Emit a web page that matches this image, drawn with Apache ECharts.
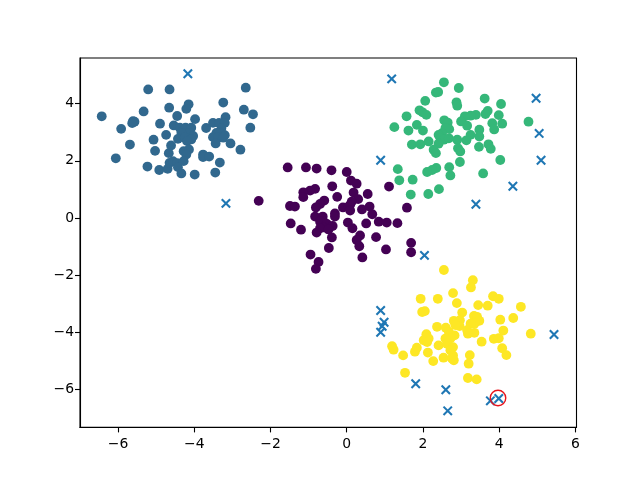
<!DOCTYPE html>
<html>
<head>
<meta charset="utf-8">
<style>
    html, body { margin: 0; padding: 0; background: #fff; }
    #main { width: 640px; height: 480px; }
</style>
</head>
<body>
<div id="main"></div>
<script src="https://cdn.jsdelivr.net/npm/echarts@6/dist/echarts.min.js"></script>
<script>
var xTicks = [-6, -4, -2, 0, 2, 4, 6];
var yTicks = [-6, -4, -2, 0, 2, 4];

var cluster0 = [[-1.55,1.77],[-1.07,1.77],[-0.79,1.73],[-0.40,1.67],[0.00,1.61],[0.11,1.31],[0.26,1.20],[-0.38,1.11],[-0.83,1.02],[-0.96,0.96],[-1.14,0.90],[-1.14,0.73],[0.18,0.89],[0.55,0.84],[1.11,1.10],[-0.25,0.74],[0.30,0.66],[0.13,0.57],[-0.59,0.61],[-0.70,0.49],[-0.81,0.37],[-1.49,0.42],[-1.36,0.40],[-0.10,0.37],[0.05,0.40],[0.09,0.46],[0.09,0.26],[0.40,0.30],[0.60,0.40],[0.67,0.13],[1.58,0.36],[-0.83,0.05],[-0.63,0.05],[-0.31,0.16],[-0.31,0.05],[-1.47,-0.19],[-1.20,-0.41],[-0.61,-0.13],[-0.70,-0.13],[-0.52,-0.21],[-0.61,-0.33],[-0.70,-0.36],[-0.37,-0.28],[-0.79,-0.51],[-0.48,-0.40],[-0.39,-0.68],[0.03,-0.16],[0.15,-0.36],[0.51,-0.19],[0.84,-0.13],[1.05,-0.16],[1.33,-0.18],[0.77,-0.67],[0.35,-0.61],[0.26,-0.77],[0.33,-0.99],[1.03,-1.10],[1.69,-0.87],[1.69,-1.20],[-0.47,-1.05],[-0.95,-1.28],[-0.74,-1.54],[-0.81,-1.78],[0.41,-1.38],[-2.31,0.60]];

var cluster1 = [[-6.43,3.56],[-6.06,2.09],[-5.92,3.12],[-5.69,2.57],[-5.61,3.39],[-5.57,3.37],[-5.63,3.32],[-5.33,3.73],[-5.21,4.50],[-4.65,4.50],[-5.23,1.80],[-5.07,2.74],[-5.03,2.35],[-4.90,3.30],[-4.92,1.68],[-4.74,2.91],[-4.70,1.72],[-4.66,3.86],[-4.67,2.27],[-4.61,2.54],[-4.65,1.93],[-4.54,3.24],[-4.45,3.57],[-4.56,1.99],[-4.45,1.92],[-4.43,1.78],[-4.34,1.56],[-3.99,1.52],[-4.15,3.98],[-4.21,3.82],[-3.98,3.46],[-4.38,3.16],[-4.30,3.06],[-4.23,3.16],[-4.08,3.16],[-4.12,2.98],[-4.34,2.98],[-4.03,2.87],[-4.43,2.77],[-4.25,2.81],[-4.08,2.75],[-4.19,2.69],[-4.28,2.34],[-4.14,2.40],[-4.21,2.22],[-4.28,1.99],[-3.77,2.22],[-3.77,2.13],[-3.61,2.15],[-3.33,1.94],[-3.45,1.59],[-3.69,3.15],[-3.51,3.33],[-3.35,3.33],[-3.18,3.53],[-3.24,4.04],[-3.20,3.33],[-3.29,3.13],[-3.33,2.98],[-3.42,2.98],[-3.20,2.90],[-3.51,2.83],[-3.38,2.81],[-3.24,2.81],[-3.44,2.61],[-3.05,2.61],[-2.79,2.39],[-2.70,3.79],[-2.65,4.56],[-2.46,3.63],[-2.53,3.16]];

var cluster2 = [[2.55,4.75],[2.94,4.55],[2.34,4.39],[2.40,4.41],[2.06,4.10],[3.62,4.18],[4.05,3.99],[2.88,4.05],[2.90,3.93],[1.91,3.77],[1.99,3.70],[2.09,3.61],[1.57,3.56],[3.70,3.75],[3.64,3.64],[3.99,3.60],[3.39,3.61],[3.25,3.58],[3.10,3.56],[3.00,3.38],[3.16,3.23],[2.56,3.42],[2.65,3.34],[1.84,3.26],[1.25,3.18],[1.62,3.06],[2.00,3.06],[2.69,3.11],[2.59,3.15],[2.50,2.97],[2.41,2.91],[3.48,3.09],[3.82,3.32],[4.08,3.30],[3.87,3.10],[4.77,3.37],[3.25,2.91],[3.48,2.85],[2.46,2.79],[2.55,2.74],[2.68,2.79],[2.90,2.74],[3.14,2.72],[1.71,2.57],[1.93,2.58],[2.15,2.68],[2.41,2.60],[2.28,2.39],[2.34,2.27],[2.92,2.44],[2.98,2.33],[3.47,2.49],[3.72,2.58],[3.78,2.42],[2.97,1.96],[4.03,2.03],[1.34,1.71],[1.38,1.32],[1.73,1.34],[2.35,1.75],[2.24,1.68],[2.11,1.61],[2.69,1.78],[2.72,1.49],[3.58,1.56],[2.42,1.01],[2.14,0.84],[1.68,0.82]];

var cluster3 = [[2.55,-1.82],[3.31,-2.18],[3.26,-2.43],[1.94,-2.83],[2.39,-2.83],[2.79,-2.63],[2.89,-2.98],[3.45,-3.05],[3.70,-3.07],[3.84,-2.74],[3.99,-2.83],[4.57,-3.11],[1.98,-3.29],[2.05,-3.26],[3.03,-3.31],[3.34,-3.43],[3.42,-3.46],[4.37,-3.50],[4.03,-3.56],[2.81,-3.60],[2.97,-3.58],[3.48,-3.60],[3.35,-3.70],[3.25,-3.70],[2.96,-3.78],[2.85,-3.75],[2.37,-3.81],[2.60,-3.84],[2.68,-3.99],[3.16,-3.93],[3.35,-4.02],[3.18,-4.05],[4.11,-3.94],[4.83,-4.05],[2.09,-4.07],[2.15,-4.22],[2.02,-4.28],[2.11,-4.34],[2.83,-4.11],[2.72,-4.22],[2.59,-4.22],[3.54,-4.33],[3.86,-4.23],[3.99,-4.21],[2.41,-4.46],[2.63,-4.40],[2.79,-4.52],[2.72,-4.63],[1.19,-4.49],[1.23,-4.61],[1.84,-4.54],[1.79,-4.68],[2.13,-4.71],[1.48,-4.81],[2.54,-4.89],[2.27,-5.01],[2.79,-4.81],[2.76,-4.92],[2.81,-4.98],[3.23,-4.80],[3.20,-5.10],[4.08,-4.56],[4.19,-4.80],[1.53,-5.42],[3.18,-5.60],[3.41,-5.65]];

var crosses = [[-4.17,5.05],[-3.17,0.51],[0.89,2.02],[2.04,-1.31],[1.18,4.87],[4.97,4.19],[5.05,2.96],[5.10,2.02],[4.36,1.11],[3.39,0.48],[0.89,-3.24],[0.98,-3.65],[0.93,-3.79],[0.89,-4.00],[5.44,-4.08],[1.81,-5.80],[2.60,-6.01],[2.65,-6.75],[3.77,-6.40],[3.99,-6.32]];

var circled = [[3.97,-6.30]];

var myChart = echarts.init(document.getElementById('main'));

function tickText(v) {
    return String(v).replace('-', '\u2212');
}

function makeAxis(min, max, ticks, margin, padding) {
    return {
        type: 'value',
        min: min,
        max: max,
        splitLine: { show: false },
        axisLine: { show: true, onZero: false, lineStyle: { color: '#000', width: 1.1 } },
        axisTick: { show: true, length: 5, customValues: ticks, lineStyle: { color: '#000', width: 1.1 } },
        axisLabel: {
            color: '#000',
            fontFamily: 'DejaVu Sans',
            fontSize: 13.9,
            margin: margin,
            padding: padding,
            customValues: ticks,
            formatter: tickText
        }
    };
}

function dots(data, color) {
    return {
        type: 'scatter',
        data: data,
        symbol: 'circle',
        symbolSize: 9.8,
        itemStyle: { color: color, opacity: 1 },
        silent: true
    };
}

var option = {
    animation: false,
    backgroundColor: '#fff',
    grid: {
        show: true,
        left: 80,
        top: 58,
        width: 496.5,
        height: 369.4,
        borderColor: '#000',
        borderWidth: 1.1
    },
    xAxis: makeAxis(-7.0, 6.03, xTicks, 10, 0),
    yAxis: makeAxis(-7.33, 5.6, yTicks, 6, [4, 0, 0, 0]),
    series: [
        dots(cluster0, '#440154'),
        dots(cluster1, '#31688e'),
        dots(cluster2, '#35b779'),
        dots(cluster3, '#fde725'),
        {
            type: 'scatter',
            data: crosses,
            symbol: 'path://M0 0L10 10M0 10L10 0',
            symbolSize: 8.4,
            itemStyle: { color: 'none', borderColor: '#1f77b4', borderWidth: 2.1, opacity: 1 },
            silent: true
        },
        {
            type: 'scatter',
            data: circled,
            symbol: 'circle',
            symbolSize: 15.5,
            itemStyle: { color: 'none', borderColor: '#e8141c', borderWidth: 1.4, opacity: 1 },
            silent: true
        }
    ]
};

myChart.setOption(option);
</script>
</body>
</html>
